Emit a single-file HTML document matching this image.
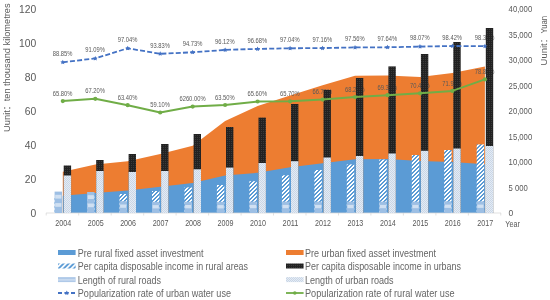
<!DOCTYPE html>
<html><head><meta charset="utf-8"><style>
html,body{margin:0;padding:0;background:#fff;width:550px;height:300px;overflow:hidden}
svg{display:block}
text{font-family:"Liberation Sans", Arial, sans-serif;fill:#595959}
</style></head><body>
<svg width="550" height="300" viewBox="0 0 550 300">
<defs>
<pattern id="hatch" width="4" height="4" patternUnits="userSpaceOnUse">
<rect width="4" height="4" fill="#fff"/><rect x="0" y="0" width="1" height="1" fill="#5B9BD5"/><rect x="1" y="0" width="1" height="1" fill="#5B9BD5"/><rect x="0" y="1" width="1" height="1" fill="#5B9BD5"/><rect x="3" y="1" width="1" height="1" fill="#5B9BD5"/><rect x="2" y="2" width="1" height="1" fill="#5B9BD5"/><rect x="3" y="2" width="1" height="1" fill="#5B9BD5"/><rect x="1" y="3" width="1" height="1" fill="#5B9BD5"/><rect x="2" y="3" width="1" height="1" fill="#5B9BD5"/></pattern>
<pattern id="blk" width="2" height="2" patternUnits="userSpaceOnUse">
<rect width="2" height="2" fill="#222"/><rect width="1" height="1" x="1" y="1" fill="#3a3a3a"/></pattern>
<pattern id="dots" width="2" height="2" patternUnits="userSpaceOnUse">
<rect width="2" height="2" fill="#E4EBF4"/><rect width="1" height="1" fill="#C9D6E6"/><rect x="1" y="1" width="1" height="1" fill="#C9D6E6"/></pattern>
<pattern id="hstripe" width="8" height="5.5" patternUnits="userSpaceOnUse" y="201.6">
<rect width="8" height="5.5" fill="#D0E0F2"/><rect width="8" height="3" fill="#ADC8E7"/></pattern>
<pattern id="lhatch" width="3.6" height="4" patternUnits="userSpaceOnUse" patternTransform="rotate(45)">
<rect width="3.6" height="4" fill="#fff"/><rect width="1.9" height="4" fill="#5B9BD5"/></pattern>
</defs>

<polygon points="62.8,213.0 62.8,171.7 95.3,164.5 127.7,161.3 160.2,154.0 192.7,145.8 225.1,121.0 257.6,106.0 290.1,95.5 322.6,85.2 355.0,75.7 387.5,75.4 420.0,77.0 452.4,73.0 484.9,66.5 484.9,213.0" fill="#ED7D31"/>
<polygon points="62.8,213.0 62.8,195.8 95.3,193.0 127.7,190.5 160.2,186.8 192.7,183.0 225.1,175.5 257.6,172.8 290.1,167.3 322.6,163.3 355.0,159.3 387.5,159.0 420.0,161.0 452.4,162.0 484.9,164.3 484.9,213.0" fill="#5B9BD5"/>
<line x1="46" y1="213" x2="501" y2="213" stroke="#D9D9D9" stroke-width="0.8"/>
<line x1="46.2" y1="213" x2="46.2" y2="215.5" stroke="#D9D9D9" stroke-width="0.8"/>
<line x1="78.7" y1="213" x2="78.7" y2="215.5" stroke="#D9D9D9" stroke-width="0.8"/>
<line x1="111.2" y1="213" x2="111.2" y2="215.5" stroke="#D9D9D9" stroke-width="0.8"/>
<line x1="143.7" y1="213" x2="143.7" y2="215.5" stroke="#D9D9D9" stroke-width="0.8"/>
<line x1="176.1" y1="213" x2="176.1" y2="215.5" stroke="#D9D9D9" stroke-width="0.8"/>
<line x1="208.6" y1="213" x2="208.6" y2="215.5" stroke="#D9D9D9" stroke-width="0.8"/>
<line x1="241.1" y1="213" x2="241.1" y2="215.5" stroke="#D9D9D9" stroke-width="0.8"/>
<line x1="273.5" y1="213" x2="273.5" y2="215.5" stroke="#D9D9D9" stroke-width="0.8"/>
<line x1="306.0" y1="213" x2="306.0" y2="215.5" stroke="#D9D9D9" stroke-width="0.8"/>
<line x1="338.5" y1="213" x2="338.5" y2="215.5" stroke="#D9D9D9" stroke-width="0.8"/>
<line x1="370.9" y1="213" x2="370.9" y2="215.5" stroke="#D9D9D9" stroke-width="0.8"/>
<line x1="403.4" y1="213" x2="403.4" y2="215.5" stroke="#D9D9D9" stroke-width="0.8"/>
<line x1="435.9" y1="213" x2="435.9" y2="215.5" stroke="#D9D9D9" stroke-width="0.8"/>
<line x1="468.4" y1="213" x2="468.4" y2="215.5" stroke="#D9D9D9" stroke-width="0.8"/>
<line x1="500.8" y1="213" x2="500.8" y2="215.5" stroke="#D9D9D9" stroke-width="0.8"/>
<text x="62.6" y="95.7" font-size="6.6" text-anchor="middle" textLength="19.67" lengthAdjust="spacingAndGlyphs">65.80%</text>
<text x="95.1" y="93.4" font-size="6.6" text-anchor="middle" textLength="19.67" lengthAdjust="spacingAndGlyphs">67.20%</text>
<text x="127.5" y="99.8" font-size="6.6" text-anchor="middle" textLength="19.67" lengthAdjust="spacingAndGlyphs">63.40%</text>
<text x="160.0" y="107.1" font-size="6.6" text-anchor="middle" textLength="19.67" lengthAdjust="spacingAndGlyphs">59.10%</text>
<text x="192.5" y="101.2" font-size="6.6" text-anchor="middle" textLength="26.12" lengthAdjust="spacingAndGlyphs">6260.00%</text>
<text x="224.9" y="99.6" font-size="6.6" text-anchor="middle" textLength="19.67" lengthAdjust="spacingAndGlyphs">63.50%</text>
<text x="257.4" y="96.1" font-size="6.6" text-anchor="middle" textLength="19.67" lengthAdjust="spacingAndGlyphs">65.60%</text>
<text x="289.9" y="95.9" font-size="6.6" text-anchor="middle" textLength="19.67" lengthAdjust="spacingAndGlyphs">65.70%</text>
<text x="322.4" y="94.2" font-size="6.6" text-anchor="middle" textLength="19.67" lengthAdjust="spacingAndGlyphs">66.70%</text>
<text x="354.8" y="91.7" font-size="6.6" text-anchor="middle" textLength="19.67" lengthAdjust="spacingAndGlyphs">68.20%</text>
<text x="387.3" y="89.8" font-size="6.6" text-anchor="middle" textLength="19.67" lengthAdjust="spacingAndGlyphs">69.30%</text>
<text x="419.8" y="87.9" font-size="6.6" text-anchor="middle" textLength="19.67" lengthAdjust="spacingAndGlyphs">70.40%</text>
<text x="452.2" y="85.5" font-size="6.6" text-anchor="middle" textLength="19.67" lengthAdjust="spacingAndGlyphs">71.90%</text>
<text x="484.7" y="74.0" font-size="6.6" text-anchor="middle" textLength="19.67" lengthAdjust="spacingAndGlyphs">78.80%</text>
<text x="62.6" y="56.1" font-size="6.6" text-anchor="middle" textLength="19.67" lengthAdjust="spacingAndGlyphs">88.85%</text>
<text x="95.1" y="52.2" font-size="6.6" text-anchor="middle" textLength="19.67" lengthAdjust="spacingAndGlyphs">91.09%</text>
<text x="127.5" y="42.1" font-size="6.6" text-anchor="middle" textLength="19.67" lengthAdjust="spacingAndGlyphs">97.04%</text>
<text x="160.0" y="47.6" font-size="6.6" text-anchor="middle" textLength="19.67" lengthAdjust="spacingAndGlyphs">93.83%</text>
<text x="192.5" y="46.1" font-size="6.6" text-anchor="middle" textLength="19.67" lengthAdjust="spacingAndGlyphs">94.73%</text>
<text x="224.9" y="43.7" font-size="6.6" text-anchor="middle" textLength="19.67" lengthAdjust="spacingAndGlyphs">96.12%</text>
<text x="257.4" y="42.7" font-size="6.6" text-anchor="middle" textLength="19.67" lengthAdjust="spacingAndGlyphs">96.68%</text>
<text x="289.9" y="42.1" font-size="6.6" text-anchor="middle" textLength="19.67" lengthAdjust="spacingAndGlyphs">97.04%</text>
<text x="322.4" y="41.9" font-size="6.6" text-anchor="middle" textLength="19.67" lengthAdjust="spacingAndGlyphs">97.16%</text>
<text x="354.8" y="41.2" font-size="6.6" text-anchor="middle" textLength="19.67" lengthAdjust="spacingAndGlyphs">97.56%</text>
<text x="387.3" y="41.1" font-size="6.6" text-anchor="middle" textLength="19.67" lengthAdjust="spacingAndGlyphs">97.64%</text>
<text x="419.8" y="40.4" font-size="6.6" text-anchor="middle" textLength="19.67" lengthAdjust="spacingAndGlyphs">98.07%</text>
<text x="452.2" y="39.8" font-size="6.6" text-anchor="middle" textLength="19.67" lengthAdjust="spacingAndGlyphs">98.42%</text>
<text x="484.7" y="40.0" font-size="6.6" text-anchor="middle" textLength="19.67" lengthAdjust="spacingAndGlyphs">98.30%</text>
<rect x="54.6" y="198.0" width="7.4" height="15.0" fill="url(#hatch)"/>
<rect x="63.7" y="165.5" width="7.4" height="47.5" fill="url(#blk)"/>
<rect x="87.1" y="196.4" width="7.4" height="16.6" fill="url(#hatch)"/>
<rect x="96.2" y="160.0" width="7.4" height="53.0" fill="url(#blk)"/>
<rect x="119.5" y="194.0" width="7.4" height="19.0" fill="url(#hatch)"/>
<rect x="128.6" y="154.0" width="7.4" height="59.0" fill="url(#blk)"/>
<rect x="152.0" y="191.0" width="7.4" height="22.0" fill="url(#hatch)"/>
<rect x="161.1" y="144.0" width="7.4" height="69.0" fill="url(#blk)"/>
<rect x="184.5" y="187.4" width="7.4" height="25.6" fill="url(#hatch)"/>
<rect x="193.6" y="134.0" width="7.4" height="79.0" fill="url(#blk)"/>
<rect x="216.9" y="185.0" width="7.4" height="28.0" fill="url(#hatch)"/>
<rect x="226.0" y="127.0" width="7.4" height="86.0" fill="url(#blk)"/>
<rect x="249.4" y="181.2" width="7.4" height="31.8" fill="url(#hatch)"/>
<rect x="258.5" y="117.6" width="7.4" height="95.4" fill="url(#blk)"/>
<rect x="281.9" y="175.3" width="7.4" height="37.7" fill="url(#hatch)"/>
<rect x="291.0" y="104.0" width="7.4" height="109.0" fill="url(#blk)"/>
<rect x="314.4" y="170.0" width="7.4" height="43.0" fill="url(#hatch)"/>
<rect x="323.5" y="90.0" width="7.4" height="123.0" fill="url(#blk)"/>
<rect x="346.8" y="164.4" width="7.4" height="48.6" fill="url(#hatch)"/>
<rect x="355.9" y="78.0" width="7.4" height="135.0" fill="url(#blk)"/>
<rect x="379.3" y="159.6" width="7.4" height="53.4" fill="url(#hatch)"/>
<rect x="388.4" y="66.4" width="7.4" height="146.6" fill="url(#blk)"/>
<rect x="411.8" y="155.0" width="7.4" height="58.0" fill="url(#hatch)"/>
<rect x="420.9" y="54.0" width="7.4" height="159.0" fill="url(#blk)"/>
<rect x="444.2" y="150.0" width="7.4" height="63.0" fill="url(#hatch)"/>
<rect x="453.3" y="42.0" width="7.4" height="171.0" fill="url(#blk)"/>
<rect x="476.7" y="144.4" width="7.4" height="68.6" fill="url(#hatch)"/>
<rect x="485.8" y="28.0" width="7.4" height="185.0" fill="url(#blk)"/>
<rect x="54.6" y="191.6" width="7.4" height="21.4" fill="#9DBFE4"/>
<rect x="55.2" y="194.8" width="6.2" height="3.8" fill="#D0E0F2"/>
<rect x="55.2" y="203.1" width="6.2" height="3.7" fill="#D0E0F2"/>
<rect x="63.7" y="175.5" width="7.4" height="37.5" fill="url(#dots)"/>
<rect x="87.1" y="192.0" width="7.4" height="21.0" fill="#9DBFE4"/>
<rect x="87.7" y="195.2" width="6.2" height="3.8" fill="#D0E0F2"/>
<rect x="87.7" y="203.5" width="6.2" height="3.7" fill="#D0E0F2"/>
<rect x="96.2" y="171.0" width="7.4" height="42.0" fill="url(#dots)"/>
<rect x="119.5" y="201.2" width="7.4" height="11.8" fill="#9DBFE4"/>
<rect x="120.1" y="204.5" width="6.2" height="3.3" fill="#D0E0F2"/>
<rect x="128.6" y="172.0" width="7.4" height="41.0" fill="url(#dots)"/>
<rect x="152.0" y="201.8" width="7.4" height="11.2" fill="#9DBFE4"/>
<rect x="152.6" y="205.1" width="6.2" height="3.3" fill="#D0E0F2"/>
<rect x="161.1" y="171.0" width="7.4" height="42.0" fill="url(#dots)"/>
<rect x="184.5" y="201.7" width="7.4" height="11.3" fill="#9DBFE4"/>
<rect x="185.1" y="205.0" width="6.2" height="3.3" fill="#D0E0F2"/>
<rect x="193.6" y="169.3" width="7.4" height="43.7" fill="url(#dots)"/>
<rect x="216.9" y="201.8" width="7.4" height="11.2" fill="#9DBFE4"/>
<rect x="217.5" y="205.1" width="6.2" height="3.3" fill="#D0E0F2"/>
<rect x="226.0" y="167.6" width="7.4" height="45.4" fill="url(#dots)"/>
<rect x="249.4" y="201.6" width="7.4" height="11.4" fill="#9DBFE4"/>
<rect x="250.0" y="204.9" width="6.2" height="3.3" fill="#D0E0F2"/>
<rect x="258.5" y="163.0" width="7.4" height="50.0" fill="url(#dots)"/>
<rect x="281.9" y="201.6" width="7.4" height="11.4" fill="#9DBFE4"/>
<rect x="282.5" y="204.9" width="6.2" height="3.3" fill="#D0E0F2"/>
<rect x="291.0" y="161.2" width="7.4" height="51.8" fill="url(#dots)"/>
<rect x="314.4" y="201.6" width="7.4" height="11.4" fill="#9DBFE4"/>
<rect x="315.0" y="204.9" width="6.2" height="3.3" fill="#D0E0F2"/>
<rect x="323.5" y="157.5" width="7.4" height="55.5" fill="url(#dots)"/>
<rect x="346.8" y="201.6" width="7.4" height="11.4" fill="#9DBFE4"/>
<rect x="347.4" y="204.9" width="6.2" height="3.3" fill="#D0E0F2"/>
<rect x="355.9" y="156.0" width="7.4" height="57.0" fill="url(#dots)"/>
<rect x="379.3" y="201.6" width="7.4" height="11.4" fill="#9DBFE4"/>
<rect x="379.9" y="204.9" width="6.2" height="3.3" fill="#D0E0F2"/>
<rect x="388.4" y="153.5" width="7.4" height="59.5" fill="url(#dots)"/>
<rect x="411.8" y="201.6" width="7.4" height="11.4" fill="#9DBFE4"/>
<rect x="412.4" y="204.9" width="6.2" height="3.3" fill="#D0E0F2"/>
<rect x="420.9" y="150.8" width="7.4" height="62.2" fill="url(#dots)"/>
<rect x="444.2" y="201.3" width="7.4" height="11.7" fill="#9DBFE4"/>
<rect x="444.8" y="204.6" width="6.2" height="3.3" fill="#D0E0F2"/>
<rect x="453.3" y="148.5" width="7.4" height="64.5" fill="url(#dots)"/>
<rect x="476.7" y="201.3" width="7.4" height="11.7" fill="#9DBFE4"/>
<rect x="477.3" y="204.6" width="6.2" height="3.3" fill="#D0E0F2"/>
<rect x="485.8" y="146.0" width="7.4" height="67.0" fill="url(#dots)"/>
<polyline points="62.8,101.1 95.3,98.8 127.7,105.2 160.2,112.5 192.7,106.6 225.1,105.0 257.6,101.5 290.1,101.3 322.6,99.6 355.0,97.1 387.5,95.2 420.0,93.3 452.4,90.9 484.9,79.4" fill="none" stroke="#70AD47" stroke-width="2" stroke-linejoin="round"/>
<circle cx="62.8" cy="101.1" r="2.1" fill="#70AD47"/>
<circle cx="95.3" cy="98.8" r="2.1" fill="#70AD47"/>
<circle cx="127.7" cy="105.2" r="2.1" fill="#70AD47"/>
<circle cx="160.2" cy="112.5" r="2.1" fill="#70AD47"/>
<circle cx="192.7" cy="106.6" r="2.1" fill="#70AD47"/>
<circle cx="225.1" cy="105.0" r="2.1" fill="#70AD47"/>
<circle cx="257.6" cy="101.5" r="2.1" fill="#70AD47"/>
<circle cx="290.1" cy="101.3" r="2.1" fill="#70AD47"/>
<circle cx="322.6" cy="99.6" r="2.1" fill="#70AD47"/>
<circle cx="355.0" cy="97.1" r="2.1" fill="#70AD47"/>
<circle cx="387.5" cy="95.2" r="2.1" fill="#70AD47"/>
<circle cx="420.0" cy="93.3" r="2.1" fill="#70AD47"/>
<circle cx="452.4" cy="90.9" r="2.1" fill="#70AD47"/>
<circle cx="484.9" cy="79.4" r="2.1" fill="#70AD47"/>
<polyline points="62.8,62.3 95.3,58.4 127.7,48.3 160.2,53.8 192.7,52.3 225.1,49.9 257.6,48.9 290.1,48.3 322.6,48.1 355.0,47.4 387.5,47.3 420.0,46.6 452.4,46.0 484.9,46.2" fill="none" stroke="#4472C4" stroke-width="1.8" stroke-dasharray="5,2.2"/>
<polygon points="62.80,59.76 63.56,61.20 65.18,61.48 64.04,62.66 64.27,64.28 62.80,63.56 61.33,64.28 61.56,62.66 60.42,61.48 62.04,61.20" fill="#4472C4"/>
<polygon points="95.27,55.95 96.03,57.40 97.65,57.67 96.51,58.85 96.74,60.47 95.27,59.75 93.80,60.47 94.03,58.85 92.89,57.67 94.51,57.40" fill="#4472C4"/>
<polygon points="127.74,45.83 128.50,47.28 130.12,47.56 128.98,48.73 129.21,50.35 127.74,49.63 126.27,50.35 126.50,48.73 125.36,47.56 126.98,47.28" fill="#4472C4"/>
<polygon points="160.21,51.29 160.97,52.74 162.59,53.02 161.45,54.19 161.68,55.81 160.21,55.09 158.74,55.81 158.97,54.19 157.83,53.02 159.45,52.74" fill="#4472C4"/>
<polygon points="192.68,49.76 193.44,51.21 195.06,51.49 193.92,52.66 194.15,54.28 192.68,53.56 191.21,54.28 191.44,52.66 190.30,51.49 191.92,51.21" fill="#4472C4"/>
<polygon points="225.15,47.40 225.91,48.84 227.53,49.12 226.39,50.30 226.62,51.92 225.15,51.20 223.68,51.92 223.91,50.30 222.77,49.12 224.39,48.84" fill="#4472C4"/>
<polygon points="257.62,46.44 258.38,47.89 260.00,48.17 258.86,49.35 259.09,50.97 257.62,50.24 256.15,50.97 256.38,49.35 255.24,48.17 256.86,47.89" fill="#4472C4"/>
<polygon points="290.09,45.83 290.85,47.28 292.47,47.56 291.33,48.73 291.56,50.35 290.09,49.63 288.62,50.35 288.85,48.73 287.71,47.56 289.33,47.28" fill="#4472C4"/>
<polygon points="322.56,45.63 323.32,47.08 324.94,47.36 323.80,48.53 324.03,50.15 322.56,49.43 321.09,50.15 321.32,48.53 320.18,47.36 321.80,47.08" fill="#4472C4"/>
<polygon points="355.03,44.95 355.79,46.40 357.41,46.68 356.27,47.85 356.50,49.47 355.03,48.75 353.56,49.47 353.79,47.85 352.65,46.68 354.27,46.40" fill="#4472C4"/>
<polygon points="387.50,44.81 388.26,46.26 389.88,46.54 388.74,47.71 388.97,49.33 387.50,48.61 386.03,49.33 386.26,47.71 385.12,46.54 386.74,46.26" fill="#4472C4"/>
<polygon points="419.97,44.08 420.73,45.53 422.35,45.81 421.21,46.98 421.44,48.60 419.97,47.88 418.50,48.60 418.73,46.98 417.59,45.81 419.21,45.53" fill="#4472C4"/>
<polygon points="452.44,43.49 453.20,44.93 454.82,45.21 453.68,46.39 453.91,48.01 452.44,47.29 450.97,48.01 451.20,46.39 450.06,45.21 451.68,44.93" fill="#4472C4"/>
<polygon points="484.91,43.69 485.67,45.14 487.29,45.42 486.15,46.59 486.38,48.21 484.91,47.49 483.44,48.21 483.67,46.59 482.53,45.42 484.15,45.14" fill="#4472C4"/>
<text x="36.3" y="217.4" font-size="10.3" text-anchor="end">0</text>
<text x="36.3" y="183.4" font-size="10.3" text-anchor="end">20</text>
<text x="36.3" y="149.4" font-size="10.3" text-anchor="end">40</text>
<text x="36.3" y="115.4" font-size="10.3" text-anchor="end">60</text>
<text x="36.3" y="81.4" font-size="10.3" text-anchor="end">80</text>
<text x="36.3" y="47.4" font-size="10.3" text-anchor="end">100</text>
<text x="36.3" y="13.4" font-size="10.3" text-anchor="end">120</text>
<text x="508.6" y="216.0" font-size="8.5">0</text>
<text x="508.6" y="190.5" font-size="8.5" textLength="19.2" lengthAdjust="spacingAndGlyphs">5 000</text>
<text x="508.6" y="165.0" font-size="8.5" textLength="23.6" lengthAdjust="spacingAndGlyphs">10,000</text>
<text x="508.6" y="139.5" font-size="8.5" textLength="23.6" lengthAdjust="spacingAndGlyphs">15,000</text>
<text x="508.6" y="114.0" font-size="8.5" textLength="23.6" lengthAdjust="spacingAndGlyphs">20,000</text>
<text x="508.6" y="88.5" font-size="8.5" textLength="23.6" lengthAdjust="spacingAndGlyphs">25,000</text>
<text x="508.6" y="63.0" font-size="8.5" textLength="23.6" lengthAdjust="spacingAndGlyphs">30,000</text>
<text x="508.6" y="37.5" font-size="8.5" textLength="23.6" lengthAdjust="spacingAndGlyphs">35,000</text>
<text x="508.6" y="12.0" font-size="8.5" textLength="23.6" lengthAdjust="spacingAndGlyphs">40,000</text>
<text x="63.2" y="226.0" font-size="9.2" text-anchor="middle" textLength="15.9" lengthAdjust="spacingAndGlyphs">2004</text>
<text x="95.7" y="226.0" font-size="9.2" text-anchor="middle" textLength="15.9" lengthAdjust="spacingAndGlyphs">2005</text>
<text x="128.1" y="226.0" font-size="9.2" text-anchor="middle" textLength="15.9" lengthAdjust="spacingAndGlyphs">2006</text>
<text x="160.6" y="226.0" font-size="9.2" text-anchor="middle" textLength="15.9" lengthAdjust="spacingAndGlyphs">2007</text>
<text x="193.1" y="226.0" font-size="9.2" text-anchor="middle" textLength="15.9" lengthAdjust="spacingAndGlyphs">2008</text>
<text x="225.5" y="226.0" font-size="9.2" text-anchor="middle" textLength="15.9" lengthAdjust="spacingAndGlyphs">2009</text>
<text x="258.0" y="226.0" font-size="9.2" text-anchor="middle" textLength="15.9" lengthAdjust="spacingAndGlyphs">2010</text>
<text x="290.5" y="226.0" font-size="9.2" text-anchor="middle" textLength="15.9" lengthAdjust="spacingAndGlyphs">2011</text>
<text x="323.0" y="226.0" font-size="9.2" text-anchor="middle" textLength="15.9" lengthAdjust="spacingAndGlyphs">2012</text>
<text x="355.4" y="226.0" font-size="9.2" text-anchor="middle" textLength="15.9" lengthAdjust="spacingAndGlyphs">2013</text>
<text x="387.9" y="226.0" font-size="9.2" text-anchor="middle" textLength="15.9" lengthAdjust="spacingAndGlyphs">2014</text>
<text x="420.4" y="226.0" font-size="9.2" text-anchor="middle" textLength="15.9" lengthAdjust="spacingAndGlyphs">2015</text>
<text x="452.8" y="226.0" font-size="9.2" text-anchor="middle" textLength="15.9" lengthAdjust="spacingAndGlyphs">2016</text>
<text x="485.3" y="226.0" font-size="9.2" text-anchor="middle" textLength="15.9" lengthAdjust="spacingAndGlyphs">2017</text>
<text x="505.3" y="227.1" font-size="9" textLength="14.6" lengthAdjust="spacingAndGlyphs">Year</text>
<text transform="translate(9.7,131.9) rotate(-90)" font-size="9.2" style="font-family:'Liberation Sans','Noto Sans CJK SC',sans-serif" textLength="31" lengthAdjust="spacingAndGlyphs">Uunit：</text>
<text transform="translate(9.7,101.3) rotate(-90)" font-size="9.2" textLength="97.8" lengthAdjust="spacingAndGlyphs">ten thousand kilometres</text>
<text transform="translate(547.3,65.4) rotate(-90)" font-size="8.6" style="font-family:'Liberation Sans','Noto Sans CJK SC',sans-serif" textLength="31.5" lengthAdjust="spacingAndGlyphs">Uunit：</text>
<text transform="translate(547.3,33.6) rotate(-90)" font-size="8.6" textLength="17.8" lengthAdjust="spacingAndGlyphs">Yuan</text>
<rect x="58.0" y="250.0" width="17.6" height="5" fill="#5B9BD5"/>
<text x="77.8" y="256.8" font-size="10" style="fill:#666" textLength="125.8" lengthAdjust="spacingAndGlyphs">Pre rural fixed asset investment</text>
<rect x="58.0" y="263.5" width="17.6" height="5" fill="url(#lhatch)"/>
<text x="77.8" y="270.3" font-size="10" style="fill:#666" textLength="170.2" lengthAdjust="spacingAndGlyphs">Per capita disposable income in rural areas</text>
<rect x="58.0" y="277.1" width="17.6" height="5" fill="#AFC9E8"/><rect x="58.0" y="279.3" width="17.6" height="1.2" fill="#D3E2F3"/>
<text x="77.8" y="283.9" font-size="10" style="fill:#666" textLength="83.2" lengthAdjust="spacingAndGlyphs">Length of rural roads</text>
<line x1="58.0" y1="293.0" x2="75.6" y2="293.0" stroke="#4472C4" stroke-width="1.8" stroke-dasharray="4,2.5"/><polygon points="66.80,290.50 67.56,291.95 69.18,292.23 68.04,293.40 68.27,295.02 66.80,294.30 65.33,295.02 65.56,293.40 64.42,292.23 66.04,291.95" fill="#4472C4"/>
<text x="77.8" y="297.3" font-size="10" style="fill:#666" textLength="153.2" lengthAdjust="spacingAndGlyphs">Popularization rate of urban water use</text>
<rect x="286.0" y="250.0" width="17.6" height="5" fill="#ED7D31"/>
<text x="305" y="256.8" font-size="10" style="fill:#666" textLength="131.0" lengthAdjust="spacingAndGlyphs">Pre urban fixed asset investment</text>
<rect x="286.0" y="263.5" width="17.6" height="5" fill="url(#blk)"/>
<text x="305" y="270.3" font-size="10" style="fill:#666" textLength="156.0" lengthAdjust="spacingAndGlyphs">Per capita disposable income in urbans</text>
<rect x="286.0" y="277.1" width="17.6" height="5" fill="url(#dots)"/>
<text x="305" y="283.9" font-size="10" style="fill:#666" textLength="88.6" lengthAdjust="spacingAndGlyphs">Length of urban roads</text>
<line x1="286.0" y1="293.0" x2="303.6" y2="293.0" stroke="#70AD47" stroke-width="1.8"/><circle cx="294.8" cy="293.0" r="1.8" fill="#70AD47"/>
<text x="305" y="297.3" font-size="10" style="fill:#666" textLength="149.6" lengthAdjust="spacingAndGlyphs">Popularization rate of rural water use</text>
</svg></body></html>
